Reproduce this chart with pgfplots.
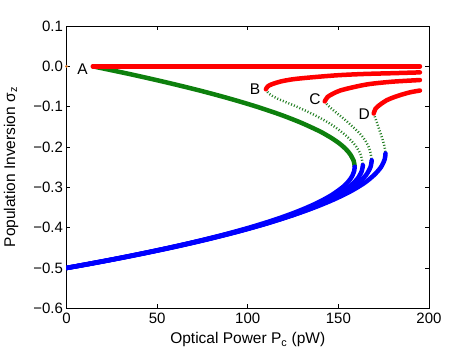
\documentclass[border=0pt]{standalone}
\usepackage{pgfplots}
\pgfplotsset{compat=1.18}
\usepackage{fontspec}
\setmainfont{Liberation Sans}
\definecolor{mred}{rgb}{1,0,0}
\definecolor{mblue}{rgb}{0,0,1}
\definecolor{mgreen}{rgb}{0.05,0.5,0.05}
\definecolor{dgreen}{rgb}{0.15,0.5,0.15}
\definecolor{morange}{rgb}{0.8,0.45,0.15}
\begin{document}
\begin{tikzpicture}
\begin{axis}[name=ax, scale only axis, width=362.5pt, height=282.3pt,
  xmin=0, xmax=200, ymin=-0.6, ymax=0.1,
  xtick={0,50,100,150,200}, xticklabels={0,50,100,150,200},
  ytick={-0.6,-0.5,-0.4,-0.3,-0.2,-0.1,0,0.1},
  yticklabels={−0.6,−0.5,−0.4,−0.3,−0.2,−0.1,0.0,0.1},
  tick align=inside, major tick length=4pt,
  axis line style={line width=0.9pt},
  every tick/.style={black, line width=0.9pt},
  tick label style={font=\fontsize{15}{18}\selectfont},
  xticklabel style={yshift=-1pt},
  label style={font=\fontsize{15.5}{18}\selectfont},
  xlabel={Optical Power P\textsubscript{c} (pW)},
  ylabel={Population Inversion σ\textsubscript{z}},
  xlabel style={at={(axis description cs:0.5,-0.112)}, anchor=center},
  ylabel style={at={(axis description cs:-0.153,0.5)}, anchor=center},
  clip mode=individual,
]
% green solid middle branch A
\addplot[mgreen, line width=4.5pt, smooth] coordinates {
(14.5,0) (35.7,-0.02) (55.3,-0.04) (73.5,-0.06) (90.0,-0.08) (104.9,-0.10) (118.1,-0.12) (129.5,-0.14) (139.2,-0.16) (143.3,-0.17) (147.0,-0.18) (150.2,-0.19) (152.9,-0.20) (155.1,-0.21) (156.8,-0.22) (158.5,-0.235) (159,-0.249)};
% green dotted B, C, D
\addplot[dgreen, line width=2.5pt, dash pattern=on 1pt off 2pt, smooth] coordinates {
(110,-0.057) (111.5,-0.067) (116.4,-0.08) (127,-0.10) (136.5,-0.12) (144.6,-0.14) (151,-0.16) (156.2,-0.18) (160,-0.20) (162.4,-0.22) (163.5,-0.245)};
\addplot[dgreen, line width=2.5pt, dash pattern=on 1pt off 2pt, smooth] coordinates {
(142.5,-0.087) (143.8,-0.095) (147.5,-0.11) (153,-0.13) (158,-0.15) (162.5,-0.17) (165.6,-0.19) (167.5,-0.21) (168.4,-0.233)};
\addplot[dgreen, line width=2.5pt, dash pattern=on 1pt off 2pt, smooth] coordinates {
(169.5,-0.117) (170.1,-0.125) (171.3,-0.14) (172.8,-0.16) (174.3,-0.18) (175.5,-0.20) (176,-0.216)};
% blue lower branches
\addplot[mblue, line width=4.5pt, smooth, line cap=round] coordinates {
(0,-0.50) (24.2,-0.48) (46.2,-0.46) (66.4,-0.44) (84.6,-0.42) (100.8,-0.40) (115.1,-0.38) (127.4,-0.36) (137.7,-0.34) (146.0,-0.32) (152.3,-0.30) (154.65,-0.29) (156.5,-0.28) (157.85,-0.27) (158.7,-0.26) (159,-0.249)};
\addplot[mblue, line width=4.5pt, smooth, line cap=round] coordinates {
(0,-0.50) (24.2,-0.48) (46.5,-0.46) (67.0,-0.44) (85.5,-0.42) (102.1,-0.40) (116.8,-0.38) (129.5,-0.36) (140.2,-0.34) (148.9,-0.32) (155.6,-0.30) (160.3,-0.28) (162.9,-0.26) (163.5,-0.245)};
\addplot[mblue, line width=4.5pt, smooth, line cap=round] coordinates {
(0,-0.50) (12.9,-0.49) (36.1,-0.47) (57.5,-0.45) (77.0,-0.43) (94.6,-0.41) (110.4,-0.39) (124.2,-0.37) (136.2,-0.35) (146.2,-0.33) (154.4,-0.31) (160.7,-0.29) (165.2,-0.27) (167.7,-0.25) (168.4,-0.233)};
\addplot[mblue, line width=4.5pt, smooth, line cap=round] coordinates {
(0,-0.50) (12.2,-0.49) (35.2,-0.47) (56.5,-0.45) (76.1,-0.43) (93.9,-0.41) (109.9,-0.39) (124.3,-0.37) (136.8,-0.35) (147.6,-0.33) (156.7,-0.31) (164.1,-0.29) (169.6,-0.27) (173.5,-0.25) (175.6,-0.23) (176,-0.216)};
% red upper branches
\addplot[mred, line width=4.5pt, line cap=round] coordinates {(14.5,0) (195,0)};
\addplot[mred, line width=4.5pt, smooth, line cap=round] coordinates {
(110,-0.057) (111,-0.050) (113,-0.045) (117.8,-0.038) (125,-0.032) (136,-0.027) (150,-0.022) (164,-0.019) (180,-0.017) (195,-0.015)};
\addplot[mred, line width=4.5pt, smooth, line cap=round] coordinates {
(142.5,-0.087) (144,-0.076) (147,-0.068) (151,-0.060) (158,-0.052) (167,-0.044) (180,-0.038) (195,-0.034)};
\addplot[mred, line width=4.5pt, smooth, line cap=round] coordinates {
(169.5,-0.117) (170.5,-0.105) (173,-0.095) (176.7,-0.084) (181,-0.076) (185.8,-0.069) (190,-0.064) (195,-0.060)};
% small orange mark
\addplot[morange, only marks, mark=*, mark size=1.2pt] coordinates {(0,0)};
% labels
\node[font=\fontsize{15.5}{18}\selectfont] at (axis cs:8.9,-0.007) {A};
\node[font=\fontsize{15.5}{18}\selectfont] at (axis cs:104,-0.057) {B};
\node[font=\fontsize{15.5}{18}\selectfont] at (axis cs:137.1,-0.081) {C};
\node[font=\fontsize{15.5}{18}\selectfont] at (axis cs:164.3,-0.118) {D};
\end{axis}
\path (ax.south west) ++(-66.5pt,-46.7pt) rectangle ++(474pt,355pt);
\end{tikzpicture}
\end{document}
